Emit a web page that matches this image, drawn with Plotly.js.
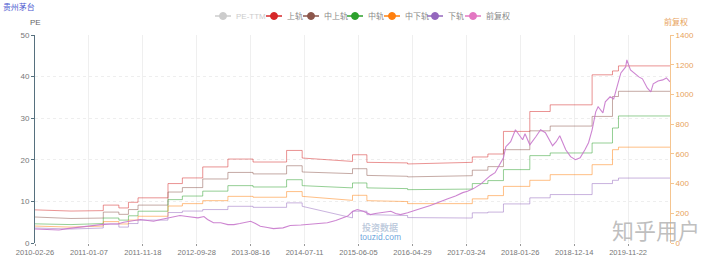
<!DOCTYPE html>
<html><head><meta charset="utf-8">
<script src="https://cdn.plot.ly/plotly-3.0.1.min.js"></script>
<style>html,body{margin:0;padding:0;background:#fff}#chart{width:720px;height:257px}</style>
</head><body><div id="chart"></div>
<script>
// x axis: weekly category index (tick every 45 weeks)
const dateLabels = ['2010-02-26','2011-01-07','2011-11-18','2012-09-28','2013-08-16','2014-07-11','2015-06-05','2016-04-29','2017-03-24','2018-01-26','2018-12-14','2019-11-22'];

const seriesNames = ['PE-TTM','上轨','中上轨','中轨','中下轨','下轨','前复权'];
const seriesColors = ['#cccccc','#d62728','#8c564b','#2ca02c','#ff7f0e','#9467bd','#e377c2'];

// band lines (元), step changes at report dates
const bandWeeks = [0,30,57,57,70,70,78,78,86,86,111,111,123,123,140,140,161,161,182,182,210,210,223,223,265,265,277,277,311,311,365,365,378,378,391,391,413,413,430,430,465,465,482,482,487,487,530];
const upper    = [223,215,218,255,255,236,236,274,274,304,304,400,400,438,438,512,512,565,565,545,545,623,623,572,549,594,594,543,539,532,543,579,579,599,599,751,751,885,885,930,930,1132,1132,1158,1158,1192,1192];
const midUpper = [175,165,168,208,208,193,193,225,225,255,255,343,343,373,373,431,431,475,475,465,465,520,520,478,467,500,500,455,449,445,453,490,490,514,514,628,628,755,755,787,787,852,852,986,986,1021,1021];
const middle   = [129,124,131,168,168,154,154,183,183,214,214,292,292,316,316,349,349,386,386,377,377,426,426,386,371,404,404,371,366,359,363,400,400,420,420,494,494,588,588,606,606,673,673,774,774,855,855];
const midLower = [114,107,114,144,144,128,128,154,154,180,180,249,249,265,265,285,285,314,314,308,308,346,346,314,287,321,321,285,279,265,265,297,297,319,319,381,381,422,422,460,460,527,527,628,628,645,645];
const lower    = [101,94,101,128,128,107,107,131,131,154,154,205,205,215,215,225,225,247,247,240,240,270,270,247,169,214,214,191,185,171,168,203,203,208,208,263,263,304,304,326,326,400,400,422,422,437,437];

// 前复权 price (元)
const priceWeeks = [0,6,13,20,27,34,41,48,55,63,69,74,81,88,94,99,105,111,116,121,127,132,136,141,144,149,155,161,166,171,180,184,188,194,199,207,213,222,230,237,244,251,255,261,265,269,274,280,284,288,293,297,301,305,311,316,322,330,338,344,351,357,361,366,372,376,380,384,388,391,393,397,401,403,407,409,413,418,422,426,428,432,435,438,443,447,451,455,459,462,465,468,470,474,476,480,483,486,489,493,494,497,500,504,507,511,514,516,520,524,527,530];
const priceValues = [94,91,86,87,97,104,113,118,124,128,128,140,148,158,151,146,158,169,181,185,178,171,169,178,158,136,136,124,124,131,146,131,113,104,97,102,118,121,128,134,136,151,165,181,212,225,214,191,198,203,212,214,198,191,203,218,232,252,279,296,316,339,348,366,396,426,453,473,527,574,648,682,762,742,695,735,661,715,762,742,715,655,682,722,628,581,561,574,628,675,762,883,917,876,950,984,970,1064,1145,1185,1232,1165,1145,1118,1105,1044,1017,1071,1091,1098,1111,1085];

const bands = [upper, midUpper, middle, midLower, lower];
const traces = [];
// PE-TTM is switched off in the reference legend: keep the left (PE) axis alive with an empty trace
traces.push({x: [null], y: [null], yaxis: 'y', type: 'scatter', mode: 'lines', name: seriesNames[0],
  showlegend: false, hoverinfo: 'skip'});
bands.forEach((vals, i) => {
  traces.push({
    x: bandWeeks, y: vals, yaxis: 'y2', type: 'scatter', mode: 'lines',
    name: seriesNames[i + 1], line: {color: seriesColors[i + 1], width: 1}, opacity: 0.5,
    showlegend: false, hoverinfo: 'skip'
  });
});
traces.push({
  x: priceWeeks, y: priceValues, yaxis: 'y2', type: 'scatter', mode: 'lines',
  name: seriesNames[6], line: {color: '#c878cc', width: 1.1}, opacity: 0.9,
  showlegend: false, hoverinfo: 'skip'
});

const L = 35, R = 50, T = 35, B = 14, W = 720, H = 257;
const pw = W - L - R, ph = H - T - B;
const px = x => (x - L) / pw;
const py = y => (H - B - y) / ph;

const shapes = [], annotations = [];
const legendX = [223, 274, 311, 355, 392, 435, 473];
const legendY = 16;
seriesNames.forEach((name, i) => {
  const c = seriesColors[i];
  shapes.push({type: 'line', xref: 'paper', yref: 'paper', xsizemode: 'pixel', ysizemode: 'pixel',
    xanchor: px(legendX[i]), yanchor: py(legendY), x0: -8, x1: 8, y0: 0, y1: 0, line: {color: c, width: 1.5}});
  shapes.push({type: 'circle', xref: 'paper', yref: 'paper', xsizemode: 'pixel', ysizemode: 'pixel',
    xanchor: px(legendX[i]), yanchor: py(legendY), x0: -3.5, x1: 3.5, y0: -3.5, y1: 3.5,
    fillcolor: c, line: {color: c, width: 1}});
  annotations.push({xref: 'paper', yref: 'paper', x: px(legendX[i] + 11), y: py(legendY), xanchor: 'left', yanchor: 'middle',
    text: name, showarrow: false, font: {size: 8, color: i === 0 ? '#cccccc' : '#888888'}});
});
annotations.push({xref: 'paper', yref: 'paper', x: px(35), y: py(22), xanchor: 'center', yanchor: 'middle',
  text: 'PE', showarrow: false, font: {size: 8, color: '#666'}});
annotations.push({xref: 'paper', yref: 'paper', x: px(676), y: py(22), xanchor: 'center', yanchor: 'middle',
  text: '前复权', showarrow: false, font: {size: 8, color: '#e8a35c'}});
annotations.push({xref: 'paper', yref: 'paper', x: px(656), y: py(231), xanchor: 'center', yanchor: 'middle',
  text: '知乎用户', showarrow: false, font: {size: 22, color: 'rgba(170,170,170,0.75)'}});
annotations.push({xref: 'paper', yref: 'paper', x: px(380), y: py(227), xanchor: 'center', yanchor: 'middle',
  text: '<b>投资数据</b>', showarrow: false, font: {size: 9, color: 'rgba(150,170,200,0.6)'}});
annotations.push({xref: 'paper', yref: 'paper', x: px(380), y: py(237), xanchor: 'center', yanchor: 'middle',
  text: 'touzid.com', showarrow: false, font: {size: 8.5, color: 'rgba(70,140,210,0.8)'}});

const layout = {
  width: W, height: H, margin: {l: L, r: R, t: T, b: B},
  paper_bgcolor: '#fff', plot_bgcolor: '#fff',
  font: {family: 'Liberation Sans, Noto Sans CJK SC, sans-serif', size: 8, color: '#777'},
  title: {text: '贵州茅台', x: 0.004, xanchor: 'left', y: 0.982, yanchor: 'top',
    font: {size: 8, color: '#4e5bd0', family: 'Noto Sans CJK SC'}},
  showlegend: false,
  xaxis: {range: [0, 530], tickmode: 'array', tickvals: dateLabels.map((d, i) => i * 45), ticktext: dateLabels,
    showgrid: true, gridcolor: '#efefef', gridwidth: 1, zeroline: false, showline: false,
    ticks: 'outside', ticklen: 2, tickcolor: '#999', tickfont: {size: 7.5, color: '#777'}},
  yaxis: {range: [0, 50], tickvals: [0, 10, 20, 30, 40, 50], showgrid: true, gridcolor: '#eeeeee', griddash: 'dot',
    zeroline: false, showline: true, linecolor: '#56707e', linewidth: 1,
    ticks: 'outside', ticklen: 3, tickcolor: '#56707e', tickfont: {size: 8, color: '#777'}},
  yaxis2: {range: [0, 1400], overlaying: 'y', side: 'right', tickvals: [0, 200, 400, 600, 800, 1000, 1200, 1400],
    ticksuffix: ' 元', showgrid: false, zeroline: false, showline: true, linecolor: '#f5c590', linewidth: 1,
    ticks: 'outside', ticklen: 3, tickcolor: '#f5c590', tickfont: {size: 8, color: '#e8a35c'}},
  shapes: shapes, annotations: annotations
};

Plotly.newPlot('chart', traces, layout, {staticPlot: true, displayModeBar: false});
</script>
</body></html>
